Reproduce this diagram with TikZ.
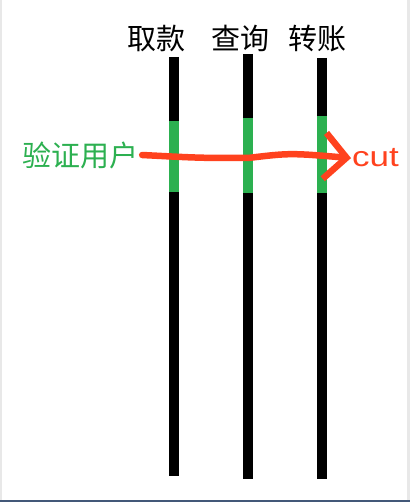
\documentclass[tikz,border=0pt]{standalone}
\usepackage{fontspec}
\setmainfont{Liberation Sans}
\newfontfamily\cjk{Noto Sans CJK SC}
\newfontfamily\widesans[FakeStretch=1.25]{Liberation Sans}
\usetikzlibrary{arrows.meta}
\definecolor{vgreen}{RGB}{44,176,80}
\definecolor{vred}{RGB}{255,66,30}
\definecolor{edgegray}{RGB}{232,232,232}
\definecolor{edgeblue}{RGB}{67,88,120}

\begin{document}
\begin{tikzpicture}
[x = 1pt, y = -1pt,
 life/.style = {draw = black, line width = 10pt},
 active/.style = {draw = vgreen, line width = 10pt},
 tag/.style = {font = \cjk\fontsize{29}{29}\selectfont, inner sep = 0pt},
 cutarrow/.style = {draw = vred, line width = 6.5pt, line cap = round,
   -{Straight Barb[length = 22pt, width = 46pt]}}
 ]
\useasboundingbox (0,0) rectangle (410,502);
\fill [white] (0,0) rectangle (410,502);
\fill [edgegray] (0,0) rectangle (1.5,502);
\fill [edgegray] (406.5,0) rectangle (410,502);
\fill [edgeblue] (0,499.5) rectangle (410,502);
% titles
\node [tag] (qk) at (156.5,38.5) {取款};
\node [tag] (cx) at (240,38.5) {查询};
\node [tag] (zz) at (317,38.5) {转账};
% lifelines
\coordinate (qk top) at (174,57);
\coordinate (qk bot) at (174,476);
\coordinate (cx top) at (248,54);
\coordinate (cx bot) at (248,479);
\coordinate (zz top) at (322,58);
\coordinate (zz bot) at (322,479);
\draw [life] (qk top) -- (qk bot);
\draw [life] (cx top) -- (cx bot);
\draw [life] (zz top) -- (zz bot);
\draw [active] (174,121) -- (174,192);
\draw [active] (248,118) -- (248,193);
\draw [active] (322,116) -- (322,193);
% cut
\node [tag, text = vgreen, inner sep = 4pt] (user) at (80,155) {验证用户};
\node [font = \widesans\fontsize{28}{28}\selectfont, text = vred, inner sep = 1pt,
  anchor = base west] (cut) at (351,167) {cut};
\draw [cutarrow] (user.east) .. controls (200,158) .. (248,158)
  .. controls (290,153) .. (cut.west);
\end{tikzpicture}
\end{document}
